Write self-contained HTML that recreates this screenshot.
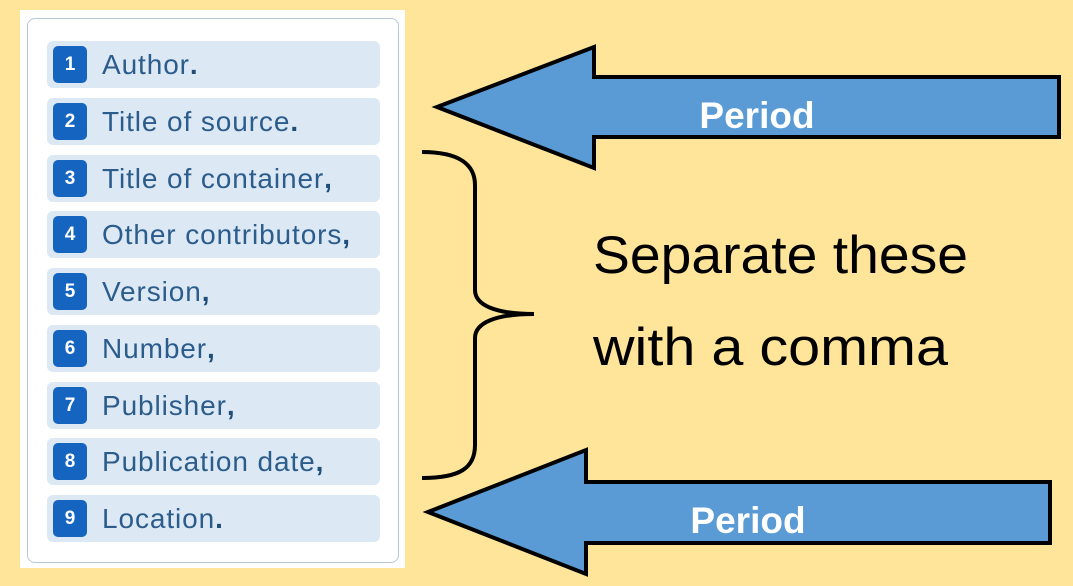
<!DOCTYPE html>
<html><head><style>
body{margin:0;width:1073px;height:586px;background:#fee599;position:relative;overflow:hidden;font-family:"Liberation Sans",sans-serif}
.panel{position:absolute;left:20px;top:10px;width:385px;height:558px;background:#fff}
.inner{position:absolute;left:27px;top:18px;width:372px;height:545px;border:1px solid #b7c7d6;border-radius:8px;box-sizing:border-box}
.row{position:absolute;left:47px;width:333px;height:47px;background:#dce9f4;border-radius:6px}
.b{position:absolute;left:6px;top:5px;width:34px;height:37px;background:#1565c0;border-radius:5px;color:#fff;font-weight:bold;font-size:19px;text-align:center;line-height:37px}
.t{position:absolute;left:55px;top:0;line-height:47px;font-size:28px;letter-spacing:0.9px;color:#2b5c8c;white-space:nowrap}
.t b{font-weight:900;color:#1f4e7a}
</style></head><body>
<div class="panel"></div><div class="inner"></div>
<div class="row" style="top:41px"><div class="b">1</div><div class="t">Author<b>.</b></div></div>
<div class="row" style="top:98px"><div class="b">2</div><div class="t">Title of source<b>.</b></div></div>
<div class="row" style="top:155px"><div class="b">3</div><div class="t">Title of container<b>,</b></div></div>
<div class="row" style="top:211px"><div class="b">4</div><div class="t">Other contributors<b>,</b></div></div>
<div class="row" style="top:268px"><div class="b">5</div><div class="t">Version<b>,</b></div></div>
<div class="row" style="top:325px"><div class="b">6</div><div class="t">Number<b>,</b></div></div>
<div class="row" style="top:382px"><div class="b">7</div><div class="t">Publisher<b>,</b></div></div>
<div class="row" style="top:438px"><div class="b">8</div><div class="t">Publication date<b>,</b></div></div>
<div class="row" style="top:495px"><div class="b">9</div><div class="t">Location<b>.</b></div></div>
<svg width="1073" height="586" style="position:absolute;left:0;top:0">
<polygon points="437,107 594,47 594,77 1059,77 1059,137 594,137 594,168" fill="#5b9bd5" stroke="#000" stroke-width="4"/>
<polygon points="428,512 586,450 586,482 1050,482 1050,543 586,543 586,574" fill="#5b9bd5" stroke="#000" stroke-width="4"/>
<text x="757" y="128" fill="#fff" font-size="37" font-weight="bold" text-anchor="middle" font-family="Liberation Sans, sans-serif">Period</text>
<text x="748" y="533" fill="#fff" font-size="37" font-weight="bold" text-anchor="middle" font-family="Liberation Sans, sans-serif">Period</text>
<path d="M422,152 C460,152 475,165 475,185 L475,290 C475,305 495,314 534,314 C495,314 475,323 475,338 L475,445 C475,468 460,478 422,478" fill="none" stroke="#000" stroke-width="4"/>
<text x="593" y="273" font-size="53" font-family="Liberation Sans, sans-serif" textLength="375" lengthAdjust="spacingAndGlyphs">Separate these</text>
<text x="593" y="365" font-size="53" font-family="Liberation Sans, sans-serif" textLength="355" lengthAdjust="spacingAndGlyphs">with a comma</text>
</svg>
</body></html>
